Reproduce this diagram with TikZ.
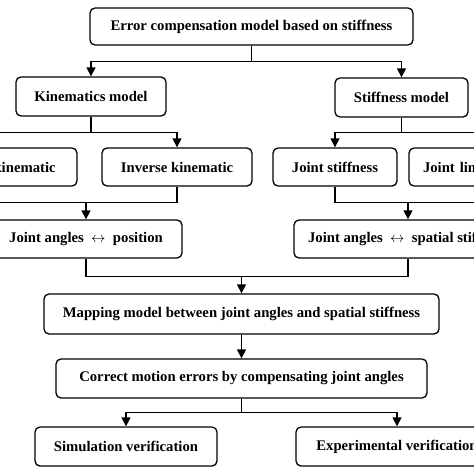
\documentclass[tikz,border=0pt]{standalone}
\usepackage{fontspec}
\setmainfont{Liberation Serif}
\usetikzlibrary{arrows.meta}

\begin{document}
\begin{tikzpicture}[x=1pt,y=-1pt,
  box/.style={draw, rounded corners=5pt, line width=1.3pt, minimum height=38pt, inner sep=0pt,
    font=\fontsize{14.7}{17}\selectfont\bfseries},
  link/.style={line width=1.3pt},
  arr/.style={line width=1.3pt, -{Triangle[length=9pt,width=9pt]}}]
\useasboundingbox (0,0) rectangle (474,474);
\clip (0,0) rectangle (474,474);
% top level
\node[box, minimum width=323pt, minimum height=37pt] (top) at (251.5,26.5) {Error compensation model based on stiffness};
% models
\node[box, minimum width=150pt, minimum height=39pt] (kin) at (91,96.5) {Kinematics model};
\node[box, minimum width=133pt, minimum height=39pt] (stf) at (401.5,97.5) {Stiffness model};
% sub-models
\node[box, minimum width=164pt] (fwd) at (-5,167) {Forward kinematic};
\node[box, minimum width=150pt] (inv) at (177,167) {Inverse kinematic};
\node[box, minimum width=124pt] (jst) at (335,167) {Joint stiffness};
\node[box, text width=134pt, align=left, inner xsep=14pt] (jlm) at (490,167) {Joint limits};
% relations
\node[box, minimum width=192pt] (jap) at (86,239) {Joint angles\enspace$\leftrightarrow$\enspace position};
\node[box, minimum width=228pt] (jas) at (408,239) {Joint angles\enspace$\leftrightarrow$\enspace spatial stiffness};
% mapping and correction
\node[box, minimum width=395pt, minimum height=40pt] (map) at (241.5,314) {Mapping model between joint angles and spatial stiffness};
\node[box, minimum width=371pt, minimum height=39pt] (cor) at (241.5,378.5) {Correct motion errors by compensating joint angles};
% verification
\node[box, minimum width=182pt, minimum height=39pt] (sim) at (126,446.5) {Simulation verification};
\node[box, minimum width=202pt, minimum height=39pt] (exp) at (397,446.5) {Experimental verification};

\draw[link] (top.south) -- ++(0,16) coordinate (t1);
\draw[arr] (t1) -| (kin.north);
\draw[arr] (t1) -| (stf.north);
\draw[link] (kin.south) -- ++(0,16) coordinate (k1);
\draw[arr] (k1) -| (fwd.north);
\draw[arr] (k1) -| (inv.north);
\draw[link] (stf.south) -- ++(0,15) coordinate (s1);
\draw[arr] (s1) -| (jst.north);
\draw[arr] (s1) -| (jlm.north);
\draw[link] (inv.south) -- ++(0,16) coordinate (i1);
\draw[link] (fwd.south) |- (i1);
\draw[arr] (jap.north |- i1) -- (jap.north);
\draw[link] (jst.south) -- ++(0,16) coordinate (j1);
\draw[link] (jlm.south) |- (j1);
\draw[arr] (jas.north |- j1) -- (jas.north);
\draw[link] (jap.south) -- ++(0,18) coordinate (a1) -| (jas.south);
\draw[arr] (map.north |- a1) -- (map.north);
\draw[arr] (map) -- (cor);
\draw[link] (cor.south) -- ++(0,14) coordinate (c1);
\draw[arr] (c1) -| (sim.north);
\draw[arr] (c1) -| (exp.north);
\end{tikzpicture}
\end{document}
